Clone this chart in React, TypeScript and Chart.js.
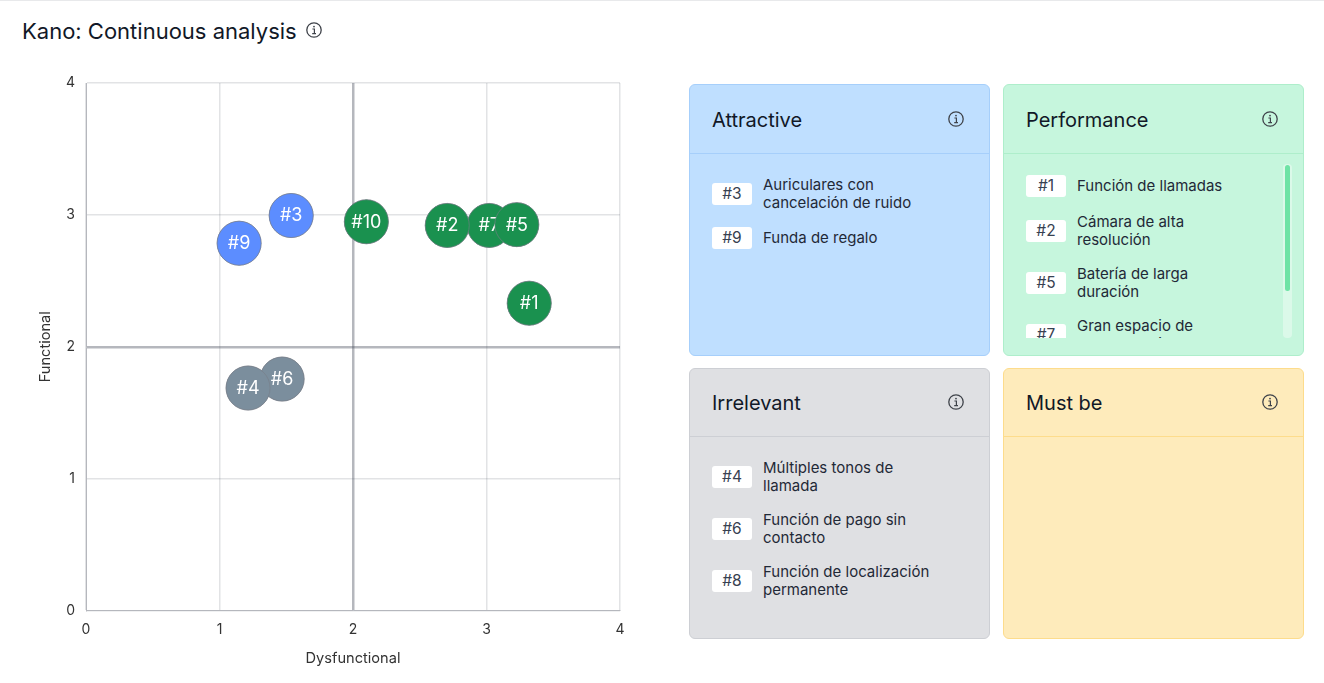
import React, { useEffect, useRef } from 'react';
import Chart from 'chart.js/auto';

const FONT = 'Inter, "Noto Sans", sans-serif';

// values, listed back to front (lower numbers sit on top)
const attractiveLabels = ['#9', '#3'];
const attractiveX = [1.147, 1.537];
const attractiveY = [2.785, 2.995];

const performanceLabels = ['#10', '#7', '#5', '#2', '#1'];
const performanceX = [2.1, 3.02, 3.227, 2.706, 3.32];
const performanceY = [2.948, 2.92, 2.926, 2.92, 2.33];

const irrelevantLabels = ['#6', '#4'];
const irrelevantX = [1.469, 1.214];
const irrelevantY = [1.755, 1.687];

const attractiveItems = [
  ['#3', 'Auriculares con cancelación de ruido'],
  ['#9', 'Funda de regalo'],
];
const performanceItems = [
  ['#1', 'Función de llamadas'],
  ['#2', 'Cámara de alta resolución'],
  ['#5', 'Batería de larga duración'],
  ['#7', 'Gran espacio de almacenamiento'],
];
const irrelevantItems = [
  ['#4', 'Múltiples tonos de llamada'],
  ['#6', 'Función de pago sin contacto'],
  ['#8', 'Función de localización permanente'],
];

const toPoints = (xs: number[], ys: number[]) => xs.map((x, i) => ({ x, y: ys[i] }));

const makeDataset = (name: string, labels: string[], xs: number[], ys: number[], color: string) => ({
  label: name,
  ids: labels,
  data: toPoints(xs, ys),
  backgroundColor: color,
  borderColor: 'rgba(120, 125, 135, 0.6)',
  borderWidth: 1,
  pointRadius: 22,
  pointHoverRadius: 22,
});

// redraws each point with its label, so a later bubble covers the label of an earlier one
const bubbleLabels = {
  id: 'bubbleLabels',
  afterDatasetsDraw(chart: any) {
    const { ctx } = chart;
    chart.data.datasets.forEach((ds: any, di: number) => {
      chart.getDatasetMeta(di).data.forEach((pt: any, i: number) => {
        pt.draw(ctx);
        ctx.save();
        ctx.fillStyle = '#ffffff';
        ctx.font = `18px ${FONT}`;
        ctx.textAlign = 'center';
        ctx.textBaseline = 'middle';
        ctx.fillText(ds.ids[i], pt.x, pt.y + 0.5);
        ctx.restore();
      });
    });
  },
};

const InfoIcon = ({ x, y }: { x: number; y: number }) => (
  <svg
    width="18"
    height="18"
    viewBox="0 0 18 18"
    style={{ position: 'absolute', left: x - 9, top: y - 9 }}
  >
    <circle cx="9" cy="9" r="7.2" fill="none" stroke="#3f434a" strokeWidth="1.3" />
    <circle cx="9" cy="5.6" r="0.9" fill="#3f434a" />
    <path d="M7.4 8h2v4.6M7.2 12.7h3.8" fill="none" stroke="#3f434a" strokeWidth="1.2" />
  </svg>
);

interface CardProps {
  title: string;
  items: string[][];
  left: number;
  top: number;
  height: number;
  headerHeight: number;
  listTop: number;
  listHeight: number;
  gap: number;
  bg: string;
  border: string;
  children?: React.ReactNode;
}

const Card = ({ title, items, left, top, height, headerHeight, listTop, listHeight, gap, bg, border, children }: CardProps) => (
  <div
    style={{
      position: 'absolute',
      left,
      top,
      width: 301,
      height,
      boxSizing: 'border-box',
      background: bg,
      border: `1px solid ${border}`,
      borderRadius: 6,
      fontFamily: FONT,
    }}
  >
    <div
      style={{
        position: 'absolute',
        left: -1,
        top: -1,
        width: 301,
        height: headerHeight,
        boxSizing: 'border-box',
        borderBottom: `1px solid ${border}`,
      }}
    >
      <div
        style={{
          position: 'absolute',
          left: 23,
          top: headerHeight - 48,
          fontSize: 20,
          lineHeight: '28px',
          color: '#111827',
        }}
      >
        {title}
      </div>
    </div>
    <div
      style={{
        position: 'absolute',
        left: 22,
        top: listTop,
        width: 250,
        height: listHeight,
        overflow: 'hidden',
      }}
    >
      {items.map(([id, text]) => (
        <div key={id} style={{ display: 'flex', alignItems: 'center', marginBottom: gap }}>
          <div
            style={{
              flex: '0 0 40px',
              height: 22,
              lineHeight: '22px',
              background: '#ffffff',
              borderRadius: 3,
              textAlign: 'center',
              fontSize: 15.5,
              color: '#374151',
            }}
          >
            {id}
          </div>
          <div
            style={{
              marginLeft: 11,
              width: 175,
              fontSize: 15,
              lineHeight: '18px',
              color: '#1f2937',
            }}
          >
            {text}
          </div>
        </div>
      ))}
    </div>
    {children}
  </div>
);

export default function App() {
  const chartRef = useRef<HTMLCanvasElement>(null);

  useEffect(() => {
    if (!chartRef.current) return;

    // translucent, so crossing lines do not cut into the darker midlines
    const gridColor = (ctx: any) => (ctx.tick && ctx.tick.value === 2 ? 'rgba(70, 74, 90, 0.4)' : 'rgba(60, 64, 80, 0.15)');
    const gridWidth = (ctx: any) => (ctx.tick && ctx.tick.value === 2 ? 2.5 : 1.5);
    const tickFont = { family: FONT, size: 14 };
    const titleFont = { family: FONT, size: 14.6 };

    const chart = new Chart(chartRef.current, {
      type: 'scatter',
      data: {
        datasets: [
          makeDataset('Attractive', attractiveLabels, attractiveX, attractiveY, '#5c8dff'),
          makeDataset('Performance', performanceLabels, performanceX, performanceY, '#1a914f'),
          makeDataset('Irrelevant', irrelevantLabels, irrelevantX, irrelevantY, '#7b8e9d'),
        ] as any,
      },
      options: {
        animation: false,
        responsive: true,
        maintainAspectRatio: false,
        layout: { autoPadding: false, padding: { top: 13, right: 20 } },
        plugins: {
          legend: { display: false },
          tooltip: { enabled: false },
        },
        scales: {
          x: {
            type: 'linear',
            min: 0,
            max: 4,
            ticks: { stepSize: 1, padding: 11, color: '#333333', font: tickFont, maxRotation: 0 },
            grid: { color: gridColor, lineWidth: gridWidth, drawTicks: false },
            border: { color: '#b5b7bd' },
            title: {
              display: true,
              text: 'Dysfunctional',
              color: '#333333',
              font: titleFont,
              padding: { top: 0, bottom: 13 },
            },
            afterFit: (scale: any) => {
              scale.height = 69.5;
              scale.paddingLeft = 0;
              scale.paddingRight = 0;
            },
          },
          y: {
            type: 'linear',
            min: 0,
            max: 4,
            ticks: { stepSize: 1, padding: 11, color: '#333333', font: tickFont },
            grid: { color: gridColor, lineWidth: gridWidth, drawTicks: false },
            border: { color: '#b5b7bd' },
            title: {
              display: true,
              text: 'Functional',
              color: '#333333',
              font: titleFont,
              padding: { top: 7, bottom: 0 },
            },
            afterFit: (scale: any) => {
              scale.width = 56;
              scale.paddingTop = 0;
              scale.paddingBottom = 0;
            },
          },
        },
      },
      plugins: [bubbleLabels],
    });

    return () => {
      chart.destroy();
    };
  }, []);

  return (
    <div
      style={{
        position: 'fixed',
        left: 0,
        top: 0,
        width: 1324,
        height: 683,
        overflow: 'hidden',
        background: '#ffffff',
        fontFamily: FONT,
      }}
    >
      <div style={{ position: 'absolute', left: 0, top: 0, width: 1324, height: 1, background: '#e8e9eb' }} />
      <div
        style={{
          position: 'absolute',
          left: 22,
          top: 16,
          fontSize: 22,
          lineHeight: '30px',
          fontWeight: 400,
          color: '#111827',
          whiteSpace: 'nowrap',
        }}
      >
        Kano: Continuous analysis
      </div>
      <InfoIcon x={314} y={30} />

      <div style={{ position: 'absolute', left: 30, top: 70, width: 610, height: 610 }}>
        <canvas ref={chartRef} />
      </div>

      <Card
        title="Attractive"
        items={attractiveItems}
        left={689}
        top={84}
        height={272}
        headerHeight={70}
        listTop={91}
        listHeight={170}
        gap={15}
        bg="#bfdfff"
        border="#a6cffb"
      />
      <InfoIcon x={956} y={119} />

      <Card
        title="Performance"
        items={performanceItems}
        left={1003}
        top={84}
        height={272}
        headerHeight={70}
        listTop={90}
        listHeight={163}
        gap={16}
        bg="#c6f6dd"
        border="#aeeecb"
      >
        <div
          style={{
            position: 'absolute',
            left: 279,
            top: 79,
            width: 9,
            height: 174,
            borderRadius: 4,
            background: '#dbf9e9',
          }}
        />
        <div
          style={{
            position: 'absolute',
            left: 281,
            top: 80,
            width: 5,
            height: 126,
            borderRadius: 3,
            background: '#6ee3a5',
          }}
        />
      </Card>
      <InfoIcon x={1270} y={119} />

      <Card
        title="Irrelevant"
        items={irrelevantItems}
        left={689}
        top={368}
        height={271}
        headerHeight={69}
        listTop={90}
        listHeight={170}
        gap={16}
        bg="#dfe0e3"
        border="#cdcfd4"
      />
      <InfoIcon x={956} y={402} />

      <Card
        title="Must be"
        items={[]}
        left={1003}
        top={368}
        height={271}
        headerHeight={69}
        listTop={90}
        listHeight={170}
        gap={16}
        bg="#feebbb"
        border="#fddc8c"
      />
      <InfoIcon x={1270} y={402} />
    </div>
  );
}
